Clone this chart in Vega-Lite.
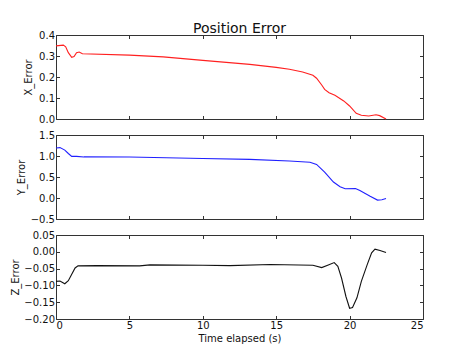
{
  "$schema": "https://vega.github.io/schema/vega-lite/v6.json",
  "background": "white",
  "padding": {"left": 9, "top": 21, "right": 5, "bottom": 10},
  "config": {
    "font": "DejaVu Sans",
    "view": {"stroke": "#333", "strokeWidth": 1},
    "axis": {"grid": false, "domain": false, "tickColor": "#333", "tickSize": -3.5, "labelPadding": 5, "labelFontSize": 10, "labelColor": "#111", "titleFontSize": 10, "titleFontWeight": "normal", "titleColor": "#111", "labelFont": "DejaVu Sans", "titleFont": "DejaVu Sans"},
    "title": {"font": "DejaVu Sans", "fontSize": 14, "fontWeight": "normal", "color": "#111", "offset": -6, "frame": "group"}
  },
  "datasets": {
    "xe": [
      {"t": 0, "v": 0.348}, {"t": 0.5, "v": 0.352}, {"t": 0.66, "v": 0.344}, {"t": 0.84, "v": 0.316}, {"t": 1.07, "v": 0.294},
      {"t": 1.23, "v": 0.297}, {"t": 1.4, "v": 0.316}, {"t": 1.58, "v": 0.319}, {"t": 1.8, "v": 0.311}, {"t": 5, "v": 0.304},
      {"t": 7.3, "v": 0.296}, {"t": 10, "v": 0.279}, {"t": 13.2, "v": 0.26}, {"t": 15, "v": 0.246}, {"t": 15.9, "v": 0.237},
      {"t": 16.8, "v": 0.224}, {"t": 17.5, "v": 0.208}, {"t": 17.75, "v": 0.194}, {"t": 18.1, "v": 0.162}, {"t": 18.3, "v": 0.141},
      {"t": 18.6, "v": 0.125}, {"t": 19.0, "v": 0.113}, {"t": 19.6, "v": 0.086}, {"t": 20.0, "v": 0.062}, {"t": 20.45, "v": 0.027},
      {"t": 20.8, "v": 0.018}, {"t": 21.3, "v": 0.014}, {"t": 21.8, "v": 0.02}, {"t": 22.05, "v": 0.016}, {"t": 22.48, "v": 0.0}
    ],
    "ye": [
      {"t": 0, "v": 1.19}, {"t": 0.27, "v": 1.2}, {"t": 0.6, "v": 1.14}, {"t": 0.84, "v": 1.06}, {"t": 1.07, "v": 0.99},
      {"t": 1.4, "v": 0.99}, {"t": 1.9, "v": 0.978}, {"t": 5, "v": 0.975}, {"t": 10, "v": 0.94}, {"t": 13.2, "v": 0.92},
      {"t": 15.9, "v": 0.88}, {"t": 17.3, "v": 0.85}, {"t": 17.75, "v": 0.8}, {"t": 18.3, "v": 0.615}, {"t": 18.9, "v": 0.38},
      {"t": 19.35, "v": 0.27}, {"t": 19.7, "v": 0.22}, {"t": 20.4, "v": 0.225}, {"t": 20.7, "v": 0.18}, {"t": 21.4, "v": 0.04},
      {"t": 21.9, "v": -0.05}, {"t": 22.2, "v": -0.04}, {"t": 22.48, "v": -0.01}
    ],
    "ze": [
      {"t": 0, "v": -0.088}, {"t": 0.27, "v": -0.087}, {"t": 0.6, "v": -0.095}, {"t": 0.84, "v": -0.086}, {"t": 1.0, "v": -0.073},
      {"t": 1.3, "v": -0.048}, {"t": 1.5, "v": -0.042}, {"t": 2.8, "v": -0.041}, {"t": 5.7, "v": -0.042}, {"t": 6.4, "v": -0.039},
      {"t": 10, "v": -0.04}, {"t": 11.85, "v": -0.041}, {"t": 14.6, "v": -0.038}, {"t": 17.5, "v": -0.04}, {"t": 18.1, "v": -0.047},
      {"t": 18.55, "v": -0.039}, {"t": 18.95, "v": -0.032}, {"t": 19.2, "v": -0.043}, {"t": 19.45, "v": -0.078}, {"t": 19.75, "v": -0.133},
      {"t": 20.0, "v": -0.168}, {"t": 20.2, "v": -0.166}, {"t": 20.5, "v": -0.137}, {"t": 20.8, "v": -0.088}, {"t": 21.2, "v": -0.038},
      {"t": 21.5, "v": -0.003}, {"t": 21.73, "v": 0.008}, {"t": 22.07, "v": 0.004}, {"t": 22.48, "v": -0.002}
    ]
  },
  "vconcat": [
    {
      "title": "Position Error",
      "width": 367, "height": 84,
      "data": {"name": "xe"},
      "layer": [
        {"mark": {"type": "line", "color": "#ff2020", "strokeWidth": 1.1},
         "encoding": {
           "x": {"field": "t", "type": "quantitative", "scale": {"domain": [0, 25], "nice": false}, "axis": {"orient": "bottom", "values": [0, 5, 10, 15, 20, 25], "labels": false, "title": null}},
           "y": {"field": "v", "type": "quantitative", "scale": {"domain": [0, 0.4], "nice": false, "zero": false}, "axis": {"orient": "left", "values": [0, 0.1, 0.2, 0.3, 0.4], "format": ".1f", "title": "X_Error", "titleX": -28, "titleY": 42, "titleBaseline": "middle", "titleAlign": "center", "titleAngle": -90}}}},
        {"mark": {"type": "line", "opacity": 0},
         "encoding": {
           "x": {"field": "t", "type": "quantitative", "axis": {"orient": "top", "values": [0, 5, 10, 15, 20, 25], "labels": false, "labelPadding": 0, "title": null}},
           "y": {"field": "v", "type": "quantitative", "axis": {"orient": "right", "values": [0, 0.1, 0.2, 0.3, 0.4], "labels": false, "labelPadding": 0, "title": null}}}}
      ],
      "resolve": {"axis": {"x": "independent", "y": "independent"}}
    },
    {
      "width": 367, "height": 84,
      "data": {"name": "ye"},
      "layer": [
        {"mark": {"type": "line", "color": "#2020ff", "strokeWidth": 1.1},
         "encoding": {
           "x": {"field": "t", "type": "quantitative", "scale": {"domain": [0, 25], "nice": false}, "axis": {"orient": "bottom", "values": [0, 5, 10, 15, 20, 25], "labels": false, "title": null}},
           "y": {"field": "v", "type": "quantitative", "scale": {"domain": [-0.5, 1.5], "nice": false, "zero": false}, "axis": {"orient": "left", "values": [-0.5, 0, 0.5, 1, 1.5], "format": ".1f", "title": "Y_Error", "titleX": -35, "titleY": 42, "titleBaseline": "middle", "titleAlign": "center", "titleAngle": -90}}}},
        {"mark": {"type": "line", "opacity": 0},
         "encoding": {
           "x": {"field": "t", "type": "quantitative", "axis": {"orient": "top", "values": [0, 5, 10, 15, 20, 25], "labels": false, "labelPadding": 0, "title": null}},
           "y": {"field": "v", "type": "quantitative", "axis": {"orient": "right", "values": [-0.5, 0, 0.5, 1, 1.5], "labels": false, "labelPadding": 0, "title": null}}}}
      ],
      "resolve": {"axis": {"x": "independent", "y": "independent"}}
    },
    {
      "width": 367, "height": 84,
      "data": {"name": "ze"},
      "layer": [
        {"mark": {"type": "line", "color": "#111", "strokeWidth": 1.1},
         "encoding": {
           "x": {"field": "t", "type": "quantitative", "scale": {"domain": [0, 25], "nice": false}, "axis": {"orient": "bottom", "values": [0, 5, 10, 15, 20, 25], "format": "d", "title": "Time elapsed (s)", "titlePadding": 3}},
           "y": {"field": "v", "type": "quantitative", "scale": {"domain": [-0.2, 0.05], "nice": false, "zero": false}, "axis": {"orient": "left", "values": [-0.2, -0.15, -0.1, -0.05, 0, 0.05], "format": ".2f", "title": "Z_Error", "titleX": -41, "titleY": 42, "titleBaseline": "middle", "titleAlign": "center", "titleAngle": -90}}}},
        {"mark": {"type": "line", "opacity": 0},
         "encoding": {
           "x": {"field": "t", "type": "quantitative", "axis": {"orient": "top", "values": [0, 5, 10, 15, 20, 25], "labels": false, "labelPadding": 0, "title": null}},
           "y": {"field": "v", "type": "quantitative", "axis": {"orient": "right", "values": [-0.2, -0.15, -0.1, -0.05, 0, 0.05], "labels": false, "labelPadding": 0, "title": null}}}}
      ],
      "resolve": {"axis": {"x": "independent", "y": "independent"}}
    }
  ],
  "spacing": 16,
  "bounds": "flush"
}
